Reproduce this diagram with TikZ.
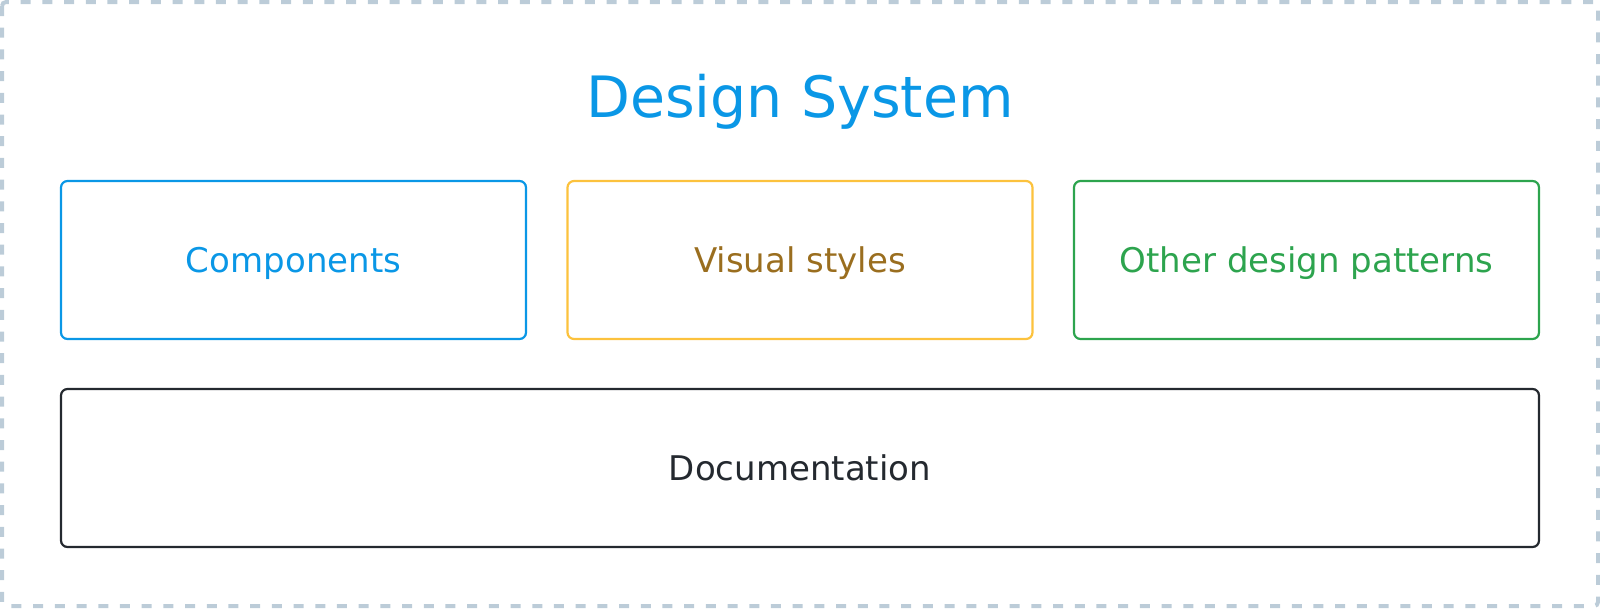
\documentclass[tikz,border=0pt]{standalone}
\usepackage{fontspec}
\setmainfont{DejaVu Sans}
\definecolor{dsblue}{HTML}{0A97E6}
\definecolor{dsyellow}{HTML}{FCC23D}
\definecolor{dsbrown}{HTML}{9A6E1F}
\definecolor{dsgreen}{HTML}{2DA44E}
\definecolor{dsdark}{HTML}{24292F}
\definecolor{dsframe}{HTML}{BCCCD8}
\begin{document}
\begin{tikzpicture}[x=1pt,y=-1pt,
  frame/.style={draw=dsframe, line width=4pt, dash pattern=on 10pt off 11.7pt, rounded corners=4pt},
  box/.style={draw, line width=2.2pt, rounded corners=6.5pt, minimum height=158pt, inner sep=0pt,
    font=\fontsize{34}{40}\selectfont, text height=24.8pt, text depth=0pt},
  small/.style={box, minimum width=465pt},
  title/.style={inner sep=0pt, font=\fontsize{57}{66}\selectfont, text height=41.6pt, text depth=0pt, text=dsblue}]
\useasboundingbox (0,0) rectangle (1600,608);
\draw[frame] (2,2) rectangle (1598,606);
\node[title] (ttl) at (800,96.5) {Design System};
\node[small, draw=dsblue, text=dsblue] (comp) at (293.5,260) {Components};
\node[small, draw=dsyellow, text=dsbrown] (vis) at (800,260) {Visual styles};
\node[small, draw=dsgreen, text=dsgreen] (oth) at (1306.5,260) {Other design patterns};
\node[box, minimum width=1478pt, draw=dsdark, text=dsdark] (doc) at (800,468) {Documentation};
\end{tikzpicture}
\end{document}
